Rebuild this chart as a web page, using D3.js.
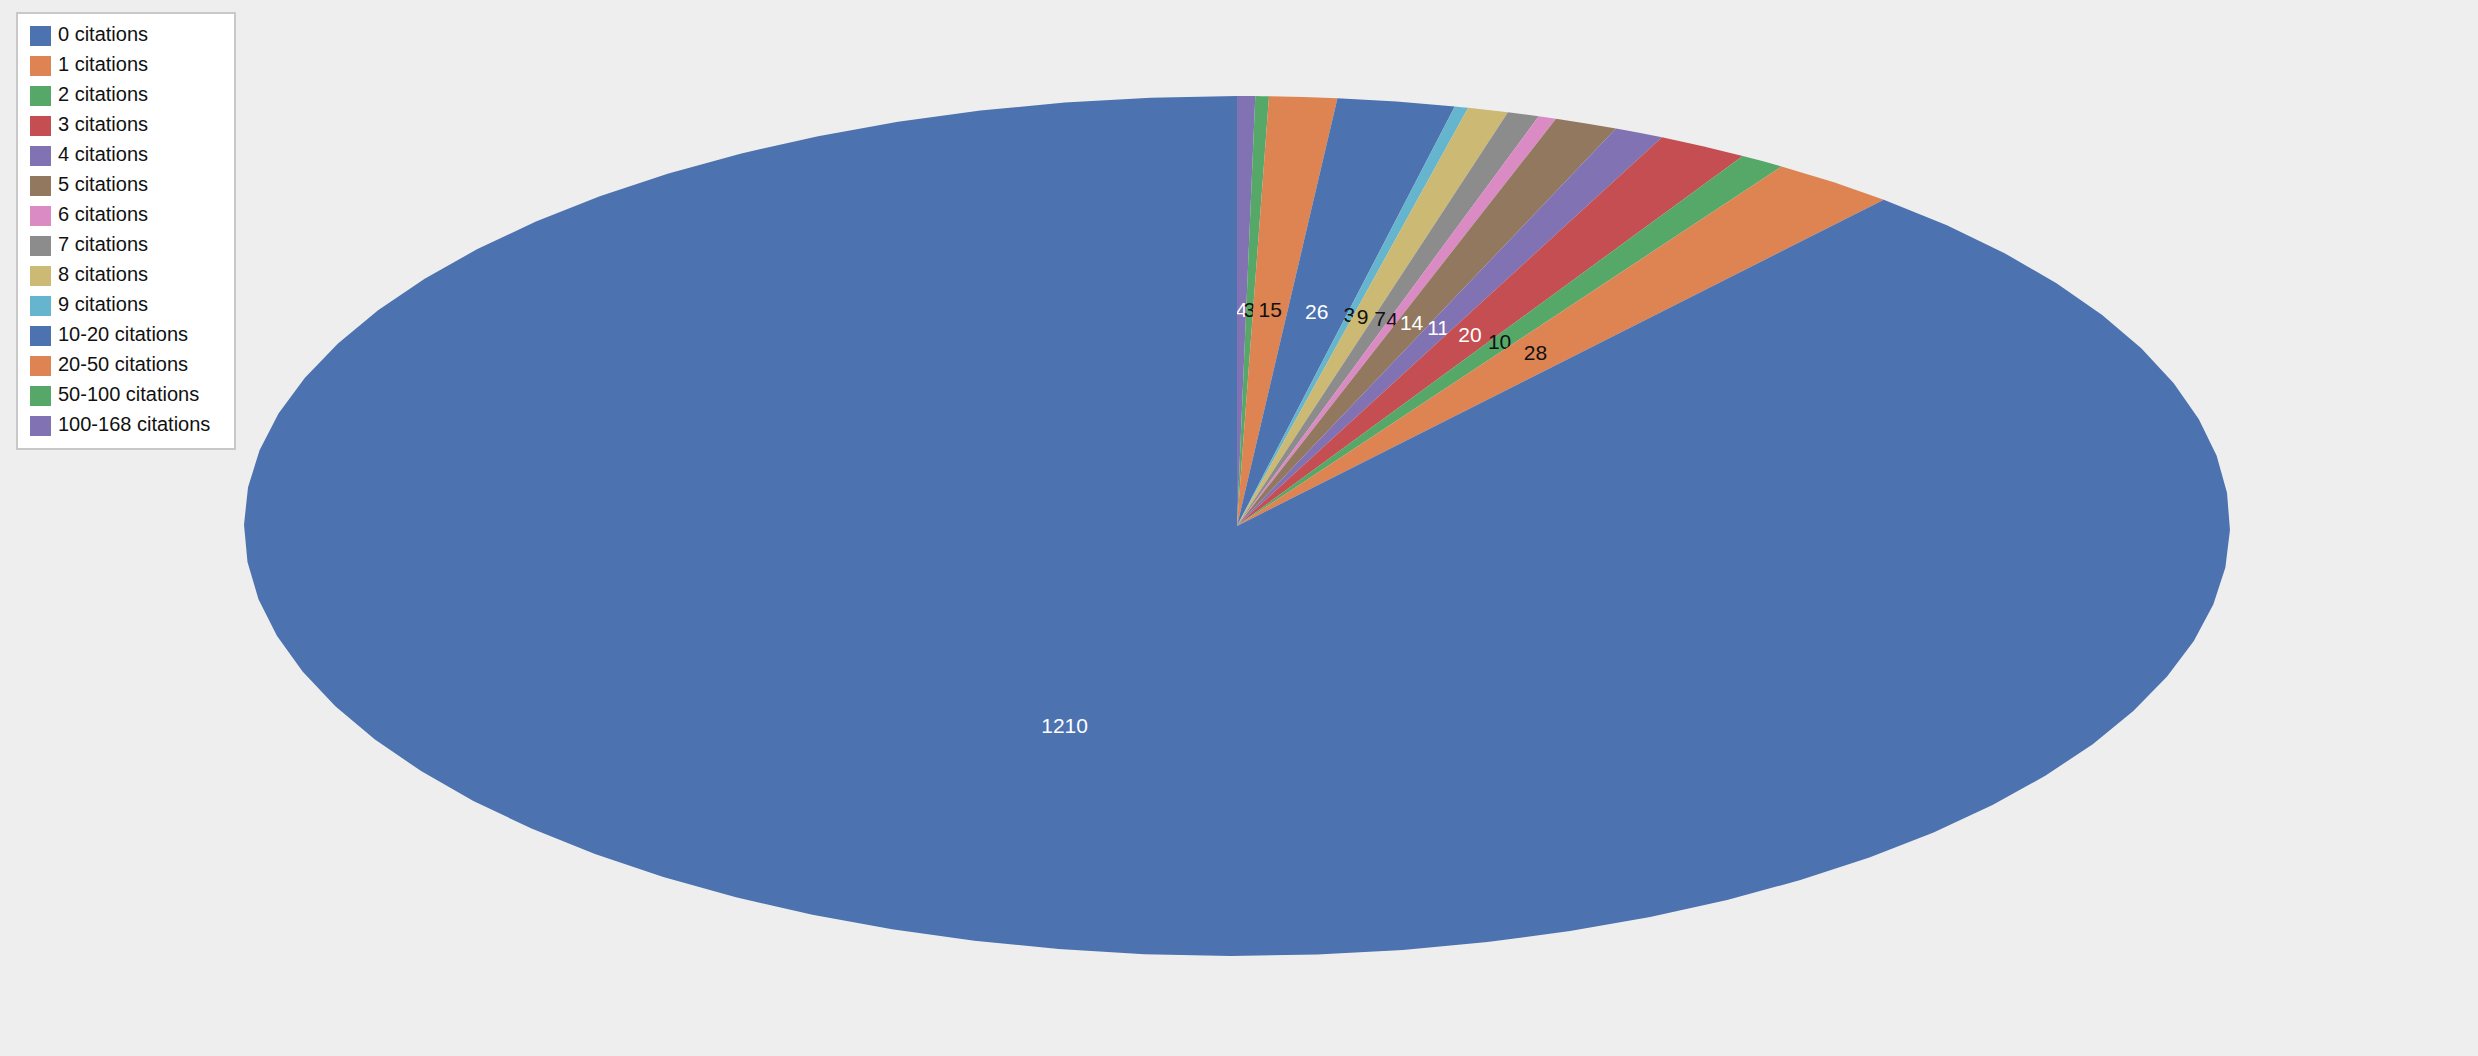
<!DOCTYPE html><html><head><script src="https://d3js.org/d3.v7.min.js"></script>
<style>body{margin:0;background:#eeeeee}</style></head><body><svg id="c" width="2478" height="1056"></svg>
<script>
const categories=["0 citations","1 citations","2 citations","3 citations","4 citations","5 citations","6 citations","7 citations","8 citations","9 citations","10-20 citations","20-50 citations","50-100 citations","100-168 citations"];
const values=[1210,28,10,20,11,14,4,7,9,3,26,15,3,4];
const colors=["#4c72b0","#dd8452","#55a868","#c44e52","#8172b3","#937860","#da8bc3","#8c8c8c","#ccb974","#64b5cd","#4c72b0","#dd8452","#55a868","#8172b3"];
const labelColors=["#fff","#111","#111","#fff","#fff","#fff","#111","#111","#111","#111","#fff","#111","#111","#fff"];
const svg=d3.select("#c");
const cx=1237,cy=526,rx=993,ry=430;
const order=d3.range(values.length).reverse();
const total=d3.sum(values);
const ang=d3.scaleLinear().domain([0,total]).range([0,2*Math.PI]);
const pt=(a,f)=>[cx+Math.sin(a)*rx*f,cy-Math.cos(a)*ry*f];
let cum=0;
order.forEach(i=>{
  const a0=ang(cum),a1=ang(cum+values[i]);cum+=values[i];
  const n=Math.max(2,Math.ceil((a1-a0)/(2*Math.PI)*72));
  const pts=[[cx,cy]];
  for(let k=0;k<=n;k++)pts.push(pt(a0+(a1-a0)*k/n,1));
  svg.append("path").attr("d",d3.line()(pts)+"Z").attr("fill",colors[i]);
  const m=pt((a0+a1)/2,0.5);
  svg.append("text").attr("x",m[0]).attr("y",m[1]).attr("text-anchor","middle").attr("dominant-baseline","middle")
    .attr("font-family","Liberation Sans, Arial").attr("font-size",21).attr("fill",labelColors[i]).text(values[i]);
});
const lg=svg.append("g");
lg.append("rect").attr("x",17).attr("y",13).attr("width",218).attr("height",436).attr("fill","#fff").attr("stroke","#c8c8c8").attr("stroke-width",2);
categories.forEach((c,i)=>{
  const y=36+i*30;
  lg.append("rect").attr("x",30).attr("y",y-10).attr("width",21).attr("height",20).attr("fill",colors[i]);
  lg.append("text").attr("x",58).attr("y",y).attr("dominant-baseline","middle").attr("font-family","Liberation Sans, Arial").attr("font-size",20).attr("fill","#111").text(c);
});
</script></body></html>
